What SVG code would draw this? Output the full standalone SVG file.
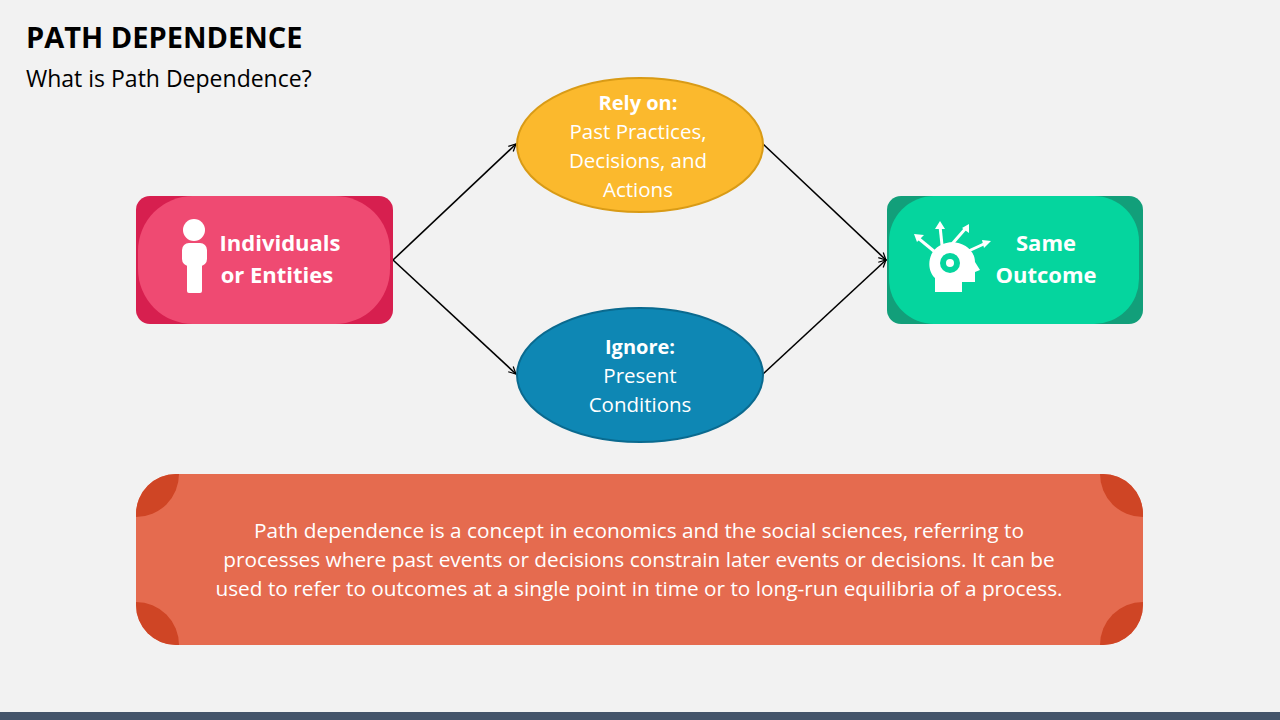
<svg xmlns="http://www.w3.org/2000/svg" width="1280" height="720" viewBox="0 0 1280 720">
<defs>
<style>
.t{font-family:"Open Sans","Noto Sans",sans-serif;fill:#fff;text-anchor:middle}
.b{font-weight:bold}
.c{stroke:#000;stroke-width:1.6;fill:none}
</style>
<marker id="a" viewBox="0 0 10 10" refX="9" refY="5" markerWidth="9" markerHeight="9" orient="auto" markerUnits="userSpaceOnUse"><path d="M1,1 L9,5 L1,9" fill="none" stroke="#000" stroke-width="1.4"/></marker>
<clipPath id="bc"><rect x="136" y="474" width="1007" height="171" rx="40"/></clipPath>
</defs>
<rect width="1280" height="720" fill="#f2f2f2"/>
<rect x="0" y="712" width="1280" height="8" fill="#44546a"/>
<text x="26" y="48" font-family="'Open Sans','Noto Sans',sans-serif" font-weight="bold" font-size="29" fill="#000">PATH DEPENDENCE</text>
<text x="26" y="87" font-family="'Open Sans','Noto Sans',sans-serif" font-size="23" fill="#000">What is Path Dependence?</text>
<g id="connectors">
<line class="c" x1="393" y1="260" x2="516" y2="144" marker-end="url(#a)"/>
<line class="c" x1="393" y1="260" x2="516" y2="374" marker-end="url(#a)"/>
<line class="c" x1="763" y1="144" x2="886" y2="260" marker-end="url(#a)"/>
<line class="c" x1="763" y1="374" x2="886" y2="260" marker-end="url(#a)"/>
</g>
<g id="individuals">
<rect x="136" y="196" width="257" height="128" rx="14" fill="#d71f4f"/>
<rect x="138" y="196" width="252" height="128" rx="55" fill="#ef4a72"/>
<circle cx="194" cy="230" r="11" fill="#fff"/>
<rect x="182" y="243" width="25" height="23" rx="7" fill="#fff"/>
<rect x="187" y="258" width="15" height="35" rx="2" fill="#fff"/>
<text class="t b" x="280" y="251" font-size="22">Individuals</text>
<text class="t b" x="277" y="283" font-size="22">or Entities</text>
</g>
<g id="rely">
<ellipse cx="640" cy="145" rx="123" ry="67" fill="#fbb92d" stroke="#d99b16" stroke-width="2"/>
<text class="t b" x="638" y="110" font-size="20">Rely on:</text>
<text class="t" x="638" y="139" font-size="20.5">Past Practices,</text>
<text class="t" x="638" y="168" font-size="20.5">Decisions, and</text>
<text class="t" x="638" y="197" font-size="20.5">Actions</text>
</g>
<g id="ignore">
<ellipse cx="640" cy="375" rx="123" ry="67" fill="#0e87b4" stroke="#0a6a8f" stroke-width="2"/>
<text class="t b" x="640" y="354" font-size="20">Ignore:</text>
<text class="t" x="640" y="383" font-size="20.5">Present</text>
<text class="t" x="640" y="412" font-size="20.5">Conditions</text>
</g>
<g id="outcome">
<rect x="887" y="196" width="256" height="128" rx="14" fill="#129f7a"/>
<rect x="889" y="196" width="250" height="128" rx="45" fill="#05d59e"/>
<g fill="#fff" stroke="#fff">
<path d="M935,292 L935,278 C926,270 927,250 943,244 C958,238 975,248 975,262 L980,270 L975,272 L975,282 L962,282 L962,292 Z" stroke="none"/>
<circle cx="950" cy="263" r="10" fill="#05d59e" stroke="none"/>
<circle cx="950" cy="263" r="4" stroke="none"/>
<g stroke-width="3" fill="none"><line x1="935" y1="252" x2="918" y2="238"/><line x1="942" y1="245" x2="940" y2="226"/><line x1="952" y1="244" x2="966" y2="228"/><line x1="962" y1="254" x2="986" y2="243"/></g>
<g stroke="none"><path d="M914,234 L924,235 L917,242Z"/><path d="M940,221 L945,229 L935,229Z"/><path d="M969,224 L969,233 L962,228Z"/><path d="M991,241 L984,248 L982,240Z"/></g>
</g>
<text class="t b" x="1046" y="251" font-size="22">Same</text>
<text class="t b" x="1046" y="283" font-size="22">Outcome</text>
</g>
<g id="description">
<rect x="136" y="474" width="1007" height="171" rx="40" fill="#e56b4f"/>
<g clip-path="url(#bc)" fill="#cf4525">
<circle cx="136" cy="474" r="43"/><circle cx="1143" cy="474" r="43"/>
<circle cx="136" cy="645" r="43"/><circle cx="1143" cy="645" r="43"/>
</g>
<text class="t" x="639" y="538" font-size="20.8">Path dependence is a concept in economics and the social sciences, referring to</text>
<text class="t" x="639" y="567" font-size="20.8">processes where past events or decisions constrain later events or decisions. It can be</text>
<text class="t" x="639" y="596" font-size="20.8">used to refer to outcomes at a single point in time or to long-run equilibria of a process.</text>
</g>
</svg>
